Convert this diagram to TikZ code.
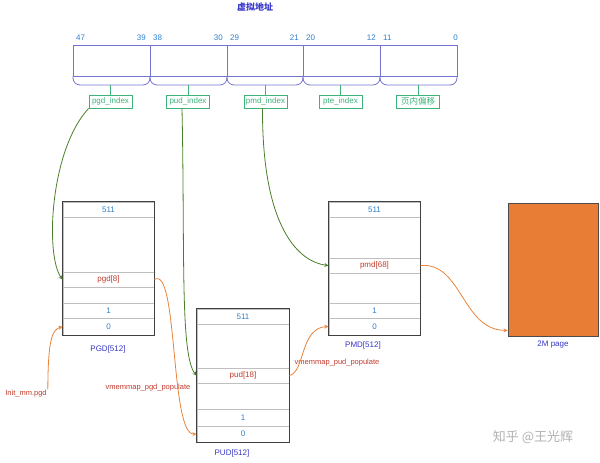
\documentclass[tikz,border=0pt]{standalone}
\usepackage{fontspec}
\setmainfont{Liberation Sans}
\newfontfamily\cjk{Noto Sans CJK SC}
\usepackage{tikz}

\definecolor{titleblue}{HTML}{3A3AC8}
\definecolor{bitline}{HTML}{7373D2}
\definecolor{numblue}{HTML}{2F7FCB}
\definecolor{idxgreen}{HTML}{3DB37A}
\definecolor{arrgreen}{HTML}{4A7F2A}
\definecolor{entryred}{HTML}{C0392B}
\definecolor{labblue}{HTML}{3535C5}
\definecolor{arrorange}{HTML}{E8833A}
\definecolor{pagefill}{HTML}{E87E36}

\begin{document}
\begin{tikzpicture}[x=1pt,y=-1pt,
  txt/.style={font=\fontsize{8}{9}\selectfont, inner sep=1pt},
  bitnum/.style={txt, text=numblue},
  idxbox/.style={draw=idxgreen, text=idxgreen, line width=0.8pt, font=\fontsize{8}{9}\selectfont, minimum width=43pt, minimum height=13pt, inner sep=1pt},
  row/.style={draw=gray!50, line width=1pt, minimum width=91pt, inner sep=0pt, font=\fontsize{8}{9}\selectfont, text=numblue},
  entry/.style={row, text=entryred},
  tabname/.style={font=\fontsize{8}{9}\selectfont, text=labblue},
  frame/.style={draw=black!75, line width=0.8pt},
  greenarrow/.style={arrgreen, line width=0.8pt, -stealth},
  orangearrow/.style={arrorange, line width=0.8pt, -stealth},
  popname/.style={font=\fontsize{7.5}{9}\selectfont, text=entryred, inner sep=1pt}]
\useasboundingbox (0,0) rectangle (600,463);
%title
\node [font=\cjk\bfseries\fontsize{9}{10}\selectfont, text=titleblue] (title) at (255,7) {虚拟地址};
%address fields
\draw [bitline, line width=0.8pt] (73,45) rectangle (150,76);
\draw [bitline, line width=0.8pt] (150,45) rectangle (227,76);
\draw [bitline, line width=0.8pt] (227,45) rectangle (303,76);
\draw [bitline, line width=0.8pt] (303,45) rectangle (380,76);
\draw [bitline, line width=0.8pt] (380,45) rectangle (457,76);
\draw [bitline, line width=0.8pt, rounded corners=7pt] (73,76) -- (73,85) -- (150,85) -- (150,76);
\draw [bitline, line width=0.8pt, rounded corners=7pt] (150,76) -- (150,85) -- (227,85) -- (227,76);
\draw [bitline, line width=0.8pt, rounded corners=7pt] (227,76) -- (227,85) -- (303,85) -- (303,76);
\draw [bitline, line width=0.8pt, rounded corners=7pt] (303,76) -- (303,85) -- (380,85) -- (380,76);
\draw [bitline, line width=0.8pt, rounded corners=7pt] (380,76) -- (380,85) -- (457,85) -- (457,76);
%bit numbers
\node [bitnum, anchor=west] (b47) at (75,38) {47};
\node [bitnum, anchor=east] (b39) at (147,38) {39};
\node [bitnum, anchor=west] (b38) at (152,38) {38};
\node [bitnum, anchor=east] (b30) at (224,38) {30};
\node [bitnum, anchor=west] (b29) at (229,38) {29};
\node [bitnum, anchor=east] (b21) at (300,38) {21};
\node [bitnum, anchor=west] (b20) at (305,38) {20};
\node [bitnum, anchor=east] (b12) at (377,38) {12};
\node [bitnum, anchor=west] (b11) at (382,38) {11};
\node [bitnum, anchor=east] (b0) at (459,38) {0};
%index boxes
\node [idxbox] (pgdidx) at (110.5,101.5) {pgd\_index};
\node [idxbox] (pudidx) at (188,101.5) {pud\_index};
\node [idxbox] (pmdidx) at (265.5,101.5) {pmd\_index};
\node [idxbox] (pteidx) at (340.5,101.5) {pte\_index};
\node [idxbox, font=\cjk\fontsize{8.5}{9}\selectfont] (offidx) at (418,101.5) {页内偏移};
\coordinate (bit1) at (110.5,85);
\coordinate (bit2) at (188,85);
\coordinate (bit3) at (265.5,85);
\coordinate (bit4) at (340.5,85);
\coordinate (bit5) at (418,85);
\draw [idxgreen, line width=0.8pt] (bit1) -- (pgdidx.north);
\draw [idxgreen, line width=0.8pt] (bit2) -- (pudidx.north);
\draw [idxgreen, line width=0.8pt] (bit3) -- (pmdidx.north);
\draw [idxgreen, line width=0.8pt] (bit4) -- (pteidx.north);
\draw [idxgreen, line width=0.8pt] (bit5) -- (offidx.north);
%PGD table
\node [row, minimum height=15pt] (pgd511) at (108.5,209.5) {511};
\node [row, minimum height=55pt] (pgdup) at (108.5,244.5) {};
\node [entry, minimum height=15pt] (pgd8) at (108.5,279.5) {pgd[8]};
\node [row, minimum height=16pt] (pgdlo) at (108.5,295) {};
\node [row, minimum height=15pt] (pgd1) at (108.5,310.5) {1};
\node [row, minimum height=17pt] (pgd0) at (108.5,326.5) {0};
\draw [frame] (pgd511.north west) rectangle (pgd0.south east);
\node [tabname] (pgdname) at (108,349) {PGD[512]};
%PUD table
\node [row, minimum width=92pt, minimum height=15pt] (pud511) at (243,316.5) {511};
\node [row, minimum width=92pt, minimum height=44pt] (pudup) at (243,346) {};
\node [entry, minimum width=92pt, minimum height=15pt] (pud18) at (243,375.5) {pud[18]};
\node [row, minimum width=92pt, minimum height=26pt] (pudlo) at (243,396) {};
\node [row, minimum width=92pt, minimum height=17pt] (pud1) at (243,417.5) {1};
\node [row, minimum width=92pt, minimum height=16pt] (pud0) at (243,434) {0};
\draw [frame] (pud511.north west) rectangle (pud0.south east);
\node [tabname] (pudname) at (232,453) {PUD[512]};
%PMD table
\node [row, minimum height=15pt] (pmd511) at (374.5,209.5) {511};
\node [row, minimum height=41pt] (pmdup) at (374.5,237.5) {};
\node [entry, minimum height=15pt] (pmd68) at (374.5,265.5) {pmd[68]};
\node [row, minimum height=30pt] (pmdlo) at (374.5,288) {};
\node [row, minimum height=15pt] (pmd1) at (374.5,310.5) {1};
\node [row, minimum height=17pt] (pmd0) at (374.5,326.5) {0};
\draw [frame] (pmd511.north west) rectangle (pmd0.south east);
\node [tabname] (pmdname) at (363,345) {PMD[512]};
%2M page
\node [fill=pagefill, draw=black!70, line width=0.8pt, minimum width=90pt, minimum height=133pt, inner sep=0pt] (page) at (553,269.5) {};
\node [tabname] (pagename) at (553,345) {2M page};
%index arrows
\draw [greenarrow] (pgdidx.south west) .. controls (50,150) and (45,255) .. (pgd8.west);
\draw [greenarrow] ([xshift=-6pt]pudidx.south) .. controls (185,250) and (180,355) .. (pud18.west);
\draw [greenarrow] ([xshift=-3pt]pmdidx.south) .. controls (262,230) and (300,262) .. (pmd68.west);
%populate arrows
\node [popname] (initmm) at (26,394) {Init\_mm.pgd};
\draw [orangearrow] (initmm.north east) .. controls (48,340) and (52,330) .. (pgd0.west);
\node [popname] (pgdpop) at (148,388) {vmemmap\_pgd\_populate};
\draw [orangearrow] (pgd8.east) .. controls (178,265) and (170,435) .. (pud0.west);
\node [popname] (pudpop) at (337,363) {vmemmap\_pud\_populate};
\draw [orangearrow] (pud18.east) .. controls (305,372) and (300,328) .. (pmd0.west);
\draw [orangearrow] (pmd68.east) .. controls (462,262) and (462,330) .. ([yshift=6pt]page.south west);
%watermark
\node [font=\cjk\fontsize{13}{14}\selectfont, text=gray!60] (mark) at (533,437) {知乎 @王光辉};
\end{tikzpicture}
\end{document}
